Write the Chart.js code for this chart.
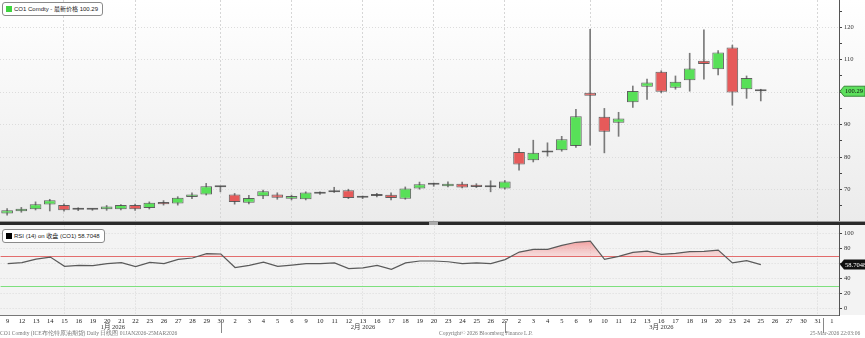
<!DOCTYPE html>
<html>
<head>
<meta charset="utf-8">
<script src="https://cdn.jsdelivr.net/npm/chart.js@4.4.1/dist/chart.umd.min.js"></script>
<style>
  body { margin: 0; width: 865px; height: 338px; overflow: hidden; background: #fff; position: relative; font-family: "Liberation Sans", "Noto Sans CJK SC", sans-serif; }
  #pricePane { position: absolute; left: 0; top: 0; width: 865px; height: 222px; background: linear-gradient(#ffffff, #ebebeb); }
  #rsiPane { position: absolute; left: 0; top: 225px; width: 865px; height: 90px; background: #f3f3f3; }
  #sep1 { position: absolute; left: 0; top: 221px; width: 865px; height: 1px; background: #999; }
  #sep2 { position: absolute; left: 0; top: 222px; width: 865px; height: 3px; background: #2a2a2a; }
  #grip { position: absolute; left: 429px; top: 222px; width: 9px; height: 3px; background: #aaa; }
  canvas { position: absolute; left: 0; }
  .legend { position: absolute; left: 2px; height: 12px; line-height: 12px; padding: 0 4px 0 3px; border: 1px solid #8a8a8a; border-radius: 3px; background: #fff; font-size: 6px; color: #222; white-space: nowrap; }
  .legend i { display: inline-block; width: 6px; height: 6px; margin-right: 2px; vertical-align: -0.5px; }
  .foot { position: absolute; top: 330px; font-family: "Liberation Serif", serif; font-size: 5.5px; color: #777; white-space: nowrap; }
</style>
</head>
<body>
<div id="pricePane"></div>
<div id="rsiPane"></div>
<canvas id="priceChart" width="865" height="222" style="top:0"></canvas>
<canvas id="rsiChart" width="865" height="113" style="top:225px"></canvas>
<div id="sep1"></div>
<div id="sep2"></div>
<div id="grip"></div>
<div class="legend" style="top:2px"><i style="background:#3fd43f"></i>CO1 Comdty - 最新价格 100.29</div>
<div class="legend" style="top:229px"><i style="background:#000"></i>RSI (14) on 收盘 (CO1) 58.7048</div>
<div class="foot" style="left:0">CO1 Comdty (ICE布伦特原油期货) Daily 日线图 01JAN2026-25MAR2026</div>
<div class="foot" style="left:439px">Copyright© 2026 Bloomberg Finance L.P.</div>
<div class="foot" style="left:810px">25-Mar-2026 22:03:06</div>
<script>
// trading days shown on the axis (Jan 9 .. Apr 1)
const dayLabels = ['9','12','13','14','15','16','19','20','21','22','23','26','27','28','29','30',
  '2','3','4','5','6','9','10','11','12','13','16','17','18','19','20','23','24','25','26','27',
  '2','3','4','5','6','9','10','11','12','13','16','17','18','19','20','23','24','25','26','27','30','31','1'];
const monthNames = ['1月 2026', '2月 2026', '3月 2026'];

// daily OHLC, Jan 9 .. Mar 25
const opens  = [62.6,63.3,63.9,65.4,65.2,63.8,63.8,63.9,63.9,65.2,64.3,66.2,65.7,67.7,68.5,70.7,
  68.5,65.9,67.9,68.5,67.2,67.0,69.1,69.2,69.8,67.5,68.0,68.4,67.2,70.3,71.5,71.0,71.8,71.5,71.1,70.3,
  81.6,79.0,81.9,82.1,83.4,99.8,92.4,90.6,96.9,101.7,106.3,101.4,103.7,109.7,107.1,113.8,100.9,100.35];
const highs  = [64.1,64.5,66.2,67.0,65.6,64.4,64.0,65.1,65.4,65.5,66.2,66.6,67.8,69.0,71.9,71.0,
  68.8,68.2,69.8,69.0,68.3,69.3,69.3,70.7,70.1,68.0,68.8,69.0,70.8,72.3,72.0,72.4,72.3,71.8,72.7,72.8,
  82.6,85.2,84.4,86.4,94.7,119.4,95.0,93.8,101.9,104.0,106.6,105.0,112.0,119.2,112.8,114.5,105.0,100.9];
const lows   = [62.1,63.0,63.7,63.4,63.3,63.5,63.6,63.6,63.7,63.6,64.0,65.2,65.2,67.2,68.3,69.3,
  65.5,65.6,67.2,67.0,66.8,66.8,68.5,69.1,67.2,67.2,67.7,66.8,67.0,70.1,71.0,70.8,70.5,70.6,69.3,70.1,
  76.0,78.5,80.3,81.8,83.0,83.7,81.3,86.4,95.3,97.8,99.8,100.9,100.3,104.0,105.3,96.0,98.1,97.3];
const closes = [63.6,64.1,65.5,66.7,63.6,64.2,63.9,64.8,65.2,63.9,65.9,65.5,67.5,68.5,71.0,70.9,
  66.2,67.4,69.5,67.5,68.0,69.1,68.7,69.5,67.4,67.7,68.6,67.4,70.3,71.6,71.7,71.8,70.6,70.8,70.7,72.5,
  77.7,81.3,81.4,85.5,92.6,98.9,87.8,91.9,100.4,103.0,100.1,103.2,107.3,108.7,112.2,99.9,104.4,100.29];

// RSI(14) on close
const rsiValues = [60,61.3,66,68.8,56.4,57.7,57.3,60,61.3,56,61.7,60,65.7,67.5,73.3,72.9,
  54.7,57.7,62,56.4,58,60,60,60.9,53.3,54.2,57.7,52.4,60.9,63.5,63.5,62.5,60,60.9,60,65.3,
  75.5,79,79,84.4,88.6,90.2,65.7,69.7,75,76.8,72.4,73.7,76,76.4,78.2,60.9,64,58.7];
const rsiLast = 58.7048;

const priceTicks = [60,65,70,75,80,85,90,95,100,105,110,115,120,125];
const rsiTicks = [0,20,40,60,80,100];
const rsiUpper = 70, rsiLower = 30;

// vertical dotted grid lines sit on these day slots
const gridDays = [4,9,15,20,25,30,35,41,46,51,57];

const UP = '#58e058', DOWN = '#e65a5a';
const tickFont = { family: 'Liberation Serif', size: 6.5 };

function fitRight(s) { s.width = 26; s.paddingTop = 0; s.paddingBottom = 0; }

const xGrid = {
  offset: false,
  drawTicks: false,
  color: c => gridDays.includes(c.index) ? '#d6d6d6' : 'rgba(0,0,0,0)'
};

const priceTag = {
  id: 'priceTag',
  afterDraw(chart) {
    const { ctx } = chart;
    const y = chart.scales.y.getPixelForValue(closes[closes.length - 1]);
    const x = chart.chartArea.right + 1;
    ctx.save();
    ctx.fillStyle = '#5de05d';
    ctx.strokeStyle = '#3a8a3a';
    ctx.beginPath();
    ctx.moveTo(x, y);
    ctx.lineTo(x + 4, y - 5);
    ctx.lineTo(865, y - 5);
    ctx.lineTo(865, y + 5);
    ctx.lineTo(x + 4, y + 5);
    ctx.closePath();
    ctx.fill();
    ctx.stroke();
    ctx.fillStyle = '#111';
    ctx.font = '6.5px "Liberation Serif"';
    ctx.textBaseline = 'middle';
    ctx.fillText('100.29', x + 5, y + 0.5);
    ctx.restore();
  }
};

new Chart(document.getElementById('priceChart'), {
  type: 'bar',
  data: {
    labels: dayLabels,
    datasets: [
      {
        label: 'body',
        data: opens.map((o, i) => [o, closes[i]]),
        backgroundColor: opens.map((o, i) => closes[i] >= o ? UP : DOWN),
        borderColor: 'rgba(70,70,70,0.85)',
        borderWidth: 1,
        borderSkipped: false,
        minBarLength: 2,
        barPercentage: 0.82,
        categoryPercentage: 1,
        grouped: false,
        order: 1
      },
      {
        label: 'wick',
        data: lows.map((l, i) => [l, highs[i]]),
        backgroundColor: '#7a7a7a',
        barThickness: 1,
        grouped: false,
        order: 2
      }
    ]
  },
  options: {
    responsive: false,
    animation: false,
    devicePixelRatio: 1,
    layout: { padding: 0 },
    plugins: { legend: { display: false }, tooltip: { enabled: false } },
    scales: {
      x: {
        ticks: { display: false, autoSkip: false },
        grid: xGrid,
        border: { display: false, dash: [2, 2] },
        afterFit(s) { s.height = 0; s.paddingLeft = 0; s.paddingRight = 0; }
      },
      y: {
        position: 'right',
        min: 60,
        max: 128.4,
        afterBuildTicks(s) { s.ticks = priceTicks.map(v => ({ value: v })); },
        afterFit: fitRight,
        ticks: {
          font: tickFont,
          color: '#333',
          padding: 2,
          callback: v => (v % 10 === 0 && v >= 70 && v <= 120 && v !== 100) ? String(v) : ''
        },
        grid: {
          tickLength: 3,
          tickColor: '#444',
          color: c => (c.tick && c.tick.value % 10 === 0 && c.tick.value >= 70 && c.tick.value <= 120) ? '#dcdcdc' : 'rgba(0,0,0,0)'
        },
        border: { color: '#555', width: 1, dash: [1, 2] }
      }
    }
  },
  plugins: [priceTag]
});

const rsiDecor = {
  id: 'rsiDecor',
  beforeDatasetsDraw(chart) {
    const { ctx, chartArea } = chart;
    const y = chart.scales.y;
    ctx.save();
    ctx.lineWidth = 1;
    ctx.strokeStyle = '#e26a6a';
    ctx.beginPath();
    ctx.moveTo(chartArea.left, Math.round(y.getPixelForValue(rsiUpper)) + 0.5);
    ctx.lineTo(chartArea.right, Math.round(y.getPixelForValue(rsiUpper)) + 0.5);
    ctx.stroke();
    ctx.strokeStyle = '#7ee07e';
    ctx.beginPath();
    ctx.moveTo(chartArea.left, Math.round(y.getPixelForValue(rsiLower)) + 0.5);
    ctx.lineTo(chartArea.right, Math.round(y.getPixelForValue(rsiLower)) + 0.5);
    ctx.stroke();
    ctx.restore();
  },
  afterDraw(chart) {
    const { ctx, chartArea } = chart;
    const x = chart.scales.x;
    const y = chart.scales.y.getPixelForValue(rsiLast);
    ctx.save();
    // month captions under the day numbers
    ctx.fillStyle = '#333';
    ctx.font = '6.5px "Liberation Serif", "Noto Sans CJK SC"';
    ctx.textAlign = 'center';
    ctx.textBaseline = 'middle';
    [7.4, 25, 46].forEach((p, i) => ctx.fillText(monthNames[i], x.getPixelForValue(p), 102.5));
    // month separators and date stamp marker
    ctx.strokeStyle = '#888';
    [15, 35].forEach(p => {
      const px = Math.round(x.getPixelForValue(p)) + 0.5;
      ctx.beginPath(); ctx.moveTo(px, 96); ctx.lineTo(px, 108); ctx.stroke();
    });
    const pd = Math.round(x.getPixelForValue(57.4)) + 0.5;
    ctx.beginPath(); ctx.moveTo(pd, 93); ctx.lineTo(pd, 108); ctx.stroke();
    // last value tag
    const tx = chartArea.right + 1;
    ctx.fillStyle = '#111';
    ctx.beginPath();
    ctx.moveTo(tx, y);
    ctx.lineTo(tx + 4, y - 5);
    ctx.lineTo(865, y - 5);
    ctx.lineTo(865, y + 5);
    ctx.lineTo(tx + 4, y + 5);
    ctx.closePath();
    ctx.fill();
    ctx.fillStyle = '#fff';
    ctx.textAlign = 'left';
    ctx.fillText('58.7048', tx + 5, y + 0.5);
    ctx.restore();
  }
};

const rsiChart = new Chart(document.getElementById('rsiChart'), {
  type: 'line',
  data: {
    labels: dayLabels,
    datasets: [{
      label: 'RSI',
      data: rsiValues,
      borderColor: '#5a5a5a',
      borderWidth: 1.2,
      pointRadius: 0,
      tension: 0,
      fill: { target: { value: rsiUpper }, above: 'rgba(238,110,110,0.45)', below: 'rgba(0,0,0,0)' }
    }]
  },
  options: {
    responsive: false,
    animation: false,
    devicePixelRatio: 1,
    layout: { padding: { left: 0, right: 0, top: 0, bottom: 11 } },
    plugins: { legend: { display: false }, tooltip: { enabled: false } },
    scales: {
      x: {
        offset: true,
        ticks: { autoSkip: false, maxRotation: 0, font: tickFont, color: '#222', padding: 2 },
        grid: xGrid,
        border: { color: '#777', dash: [1, 2] },
        afterFit(s) { s.height = 12; s.paddingLeft = 0; s.paddingRight = 0; }
      },
      y: {
        position: 'right',
        min: -9,
        max: 111,
        afterBuildTicks(s) { s.ticks = rsiTicks.map(v => ({ value: v })); },
        afterFit: fitRight,
        ticks: { font: tickFont, color: '#333', padding: 2, callback: v => v === 60 ? '' : String(v) },
        grid: { tickLength: 3, tickColor: '#444', color: '#dadada' },
        border: { color: '#555', width: 1, dash: [1, 2] }
      }
    }
  },
  plugins: [rsiDecor]
});

// pink fill fades toward the 70 line
const ys = rsiChart.scales.y;
const grad = rsiChart.ctx.createLinearGradient(0, ys.getPixelForValue(92), 0, ys.getPixelForValue(rsiUpper));
grad.addColorStop(0, 'rgba(240,110,110,0.7)');
grad.addColorStop(1, 'rgba(248,170,170,0.35)');
rsiChart.data.datasets[0].fill.above = grad;
rsiChart.update('none');
</script>
</body>
</html>
